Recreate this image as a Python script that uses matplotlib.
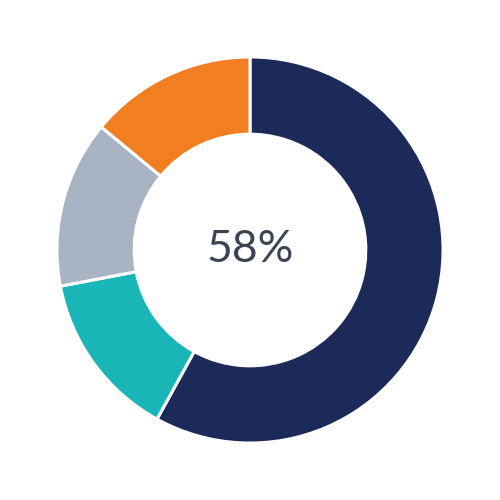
import matplotlib.pyplot as plt

# ---------------------------------
# DATA
# ---------------------------------
labels = ["Navy", "Teal", "Gray", "Orange"]
values = [58, 14, 14, 14]
colors = ["#1c2a5a", "#1ab5b7", "#a8b3c3", "#f27e22"]
center_label = "58%"

fig, ax = plt.subplots(figsize=(5, 5), dpi=100)
fig.subplots_adjust(left=0, right=1, top=1, bottom=0)

ax.pie(values, colors=colors, startangle=90, counterclock=False,
       radius=1.0,
       wedgeprops=dict(width=0.4, edgecolor="white", linewidth=2.2))

ax.text(0, 0, center_label, ha="center", va="center",
        fontsize=32, color="#3b4450", family=["Lato", "DejaVu Sans"])

ax.set_xlim(-1.295, 1.295)
ax.set_ylim(-1.295, 1.295)
ax.set_aspect("equal")
ax.axis("off")

fig.savefig("out.png", dpi=100, facecolor="white")
